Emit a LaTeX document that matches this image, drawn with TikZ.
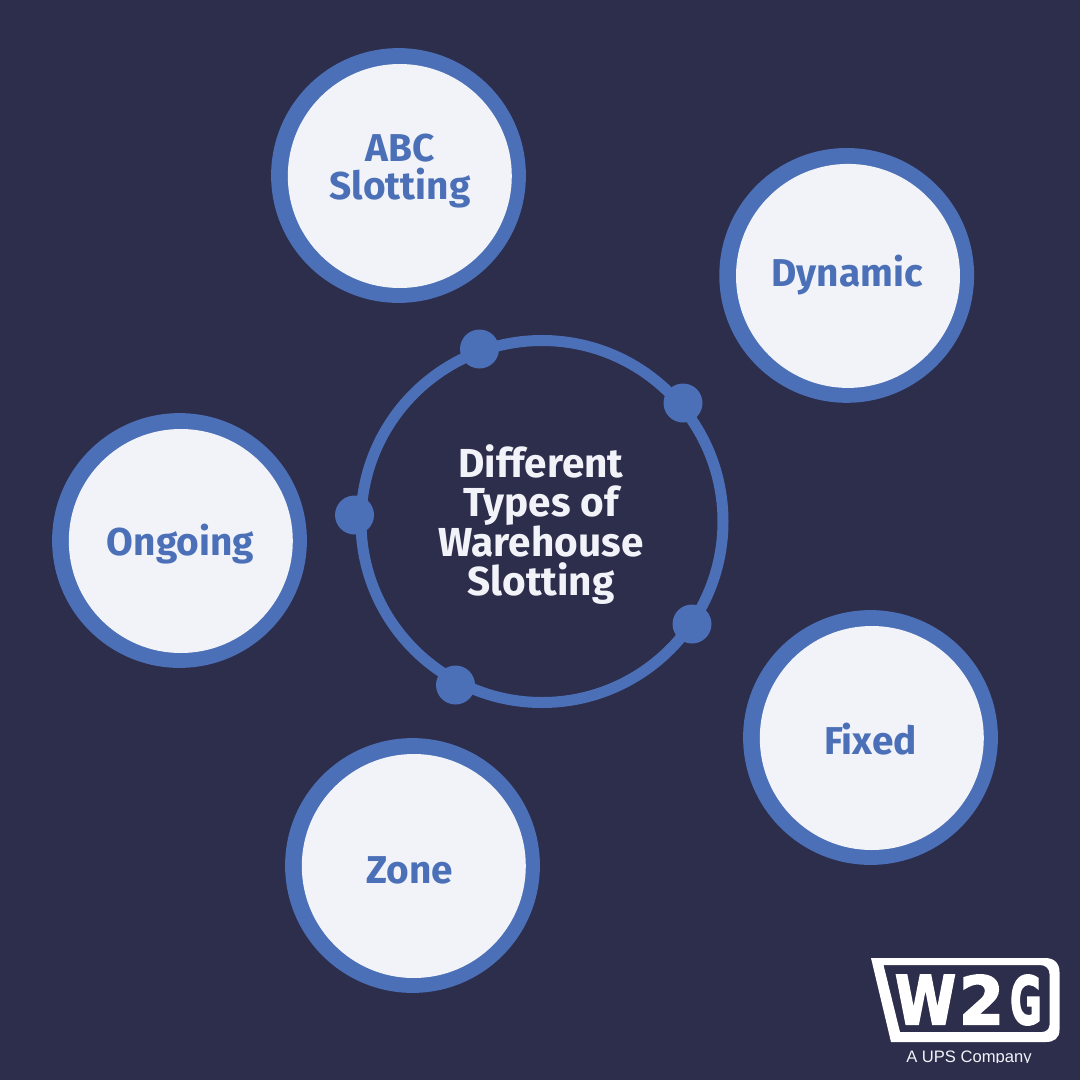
\documentclass[tikz,border=0pt]{standalone}
\usepackage{fontspec}
\setmainfont{Fira Sans}
\newfontfamily\logofont[BoldFeatures={FakeBold=3}]{DejaVu Sans}
\newfontfamily\subfont{Liberation Sans}
\definecolor{bgc}{HTML}{2D2D4C}
\definecolor{bluec}{HTML}{4B70B7}
\definecolor{lightc}{HTML}{F1F3F9}
\tikzset{
  x=1pt,y=-1pt,
  bubble/.style={circle,fill=bluec,minimum size=254.8pt,inner sep=0pt},
  bubblein/.style={circle,fill=lightc,minimum size=224pt,inner sep=0pt,xshift=1.3pt,yshift=-0.5pt},
  bubbletext/.style={inner sep=0pt,align=center,text=bluec,font=\fontsize{38.8}{38}\selectfont\bfseries},
  dotc/.style={circle,fill=bluec,minimum size=39pt,inner sep=0pt},
  ring/.style={circle,draw=bluec,line width=11pt,minimum size=362pt,inner sep=0pt},
  ringtext/.style={inner sep=0pt,align=center,text=lightc,font=\fontsize{40.5}{39}\selectfont\bfseries},
}
\begin{document}
\begin{tikzpicture}
\fill[bgc] (0,0) rectangle (1080,1080);
\useasboundingbox (0,0) rectangle (1080,1080);
\node[bubble] (abc) at (398.5,175.5) {};
\node[bubble] (dynamic) at (846.7,275.4) {};
\node[bubble] (ongoing) at (179.5,540.5) {};
\node[bubble] (fixed) at (870.5,737.5) {};
\node[bubble] (zone) at (412.5,865.5) {};
\node[bubblein] (abci) at (abc.center) {};
\node[bubblein] (dynamici) at (dynamic.center) {};
\node[bubblein] (ongoingi) at (ongoing.center) {};
\node[bubblein] (fixedi) at (fixed.center) {};
\node[bubblein] (zonei) at (zone.center) {};
\node[bubbletext] (abct) at (400,171) {ABC\\Slotting};
\node[bubbletext] (dynamict) at (847,275) {Dynamic};
\node[bubbletext] (ongoingt) at (180.5,544) {Ongoing};
\node[bubbletext] (fixedt) at (870.5,739) {Fixed};
\node[bubbletext] (zonet) at (409.5,870) {Zone};
\node[ring] (center) at (542,521.5) {};
\node[ringtext] (centert) at (541,524.5) {Different\\Types of\\Warehouse\\Slotting};
\node[dotc] (d1) at (479.5,349) {};
\node[dotc] (d2) at (683,403) {};
\node[dotc] (d3) at (692,624) {};
\node[dotc] (d4) at (455.5,685) {};
\node[dotc] (d5) at (354.5,515) {};
% logo
\fill[white,even odd rule]
  (871,958) -- (1045,958) .. controls (1054,958) and (1059.5,963) .. (1059.5,972) -- (1059.5,1030) .. controls (1059.5,1038) and (1054,1042) .. (1046,1042) -- (891,1042) -- cycle
  (883.5,965) -- (1040,965) .. controls (1046,965) and (1049.5,969) .. (1049.5,974) -- (1049.5,1025) .. controls (1049.5,1029) and (1046,1032) .. (1042,1032) -- (900,1032) -- cycle;
\node[inner sep=0pt,text=white] (logo) at (968.5,1000) {\logofont\bfseries\resizebox{61pt}{49pt}{W}\hspace{3pt}\resizebox{45pt}{49pt}{2}\hspace{6pt}\resizebox{32pt}{49pt}{G}};
\begin{scope}
\clip (850,1040) rectangle (1080,1062.5);
\node[inner sep=0pt,text=lightc,font=\fontsize{16.6}{17}\selectfont\subfont,anchor=base] (ups) at (969,1062.5) {A UPS Company};
\end{scope}
\end{tikzpicture}
\end{document}
